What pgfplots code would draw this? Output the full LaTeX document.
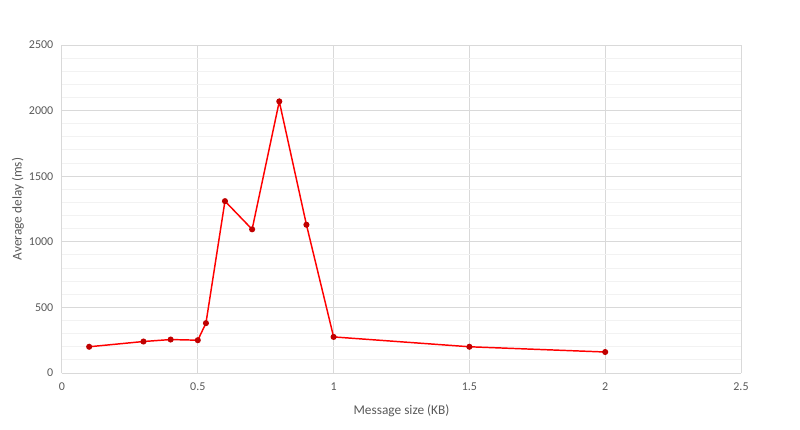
\documentclass[border=0pt]{standalone}
\usepackage{pgfplots}
\pgfplotsset{compat=1.18}
\usepackage{fontspec}
\setmainfont{Carlito}
\definecolor{tickgray}{HTML}{595959}
\definecolor{majgrid}{HTML}{D9D9D9}
\definecolor{mingrid}{HTML}{F2F2F2}
\definecolor{linered}{HTML}{FF0000}
\definecolor{markred}{HTML}{C00000}
\begin{document}
\begin{tikzpicture}
\path[use as bounding box] (0,0) rectangle (600pt,321.75pt);
\begin{axis}[
  at={(46.5pt,42pt)}, anchor=south west,
  scale only axis,
  width=509.25pt, height=246pt,
  xmin=0, xmax=2.5, ymin=0, ymax=2500,
  xtick={0,0.5,1,1.5,2,2.5},
  xticklabels={0,0.5,1,1.5,2,2.5},
  ytick={0,500,1000,1500,2000,2500},
  yticklabels={0,500,1000,1500,2000,2500},
  minor ytick={100,200,300,400,600,700,800,900,1100,1200,1300,1400,1600,1700,1800,1900,2100,2200,2300,2400},
  ymajorgrids, xmajorgrids, yminorgrids,
  major grid style={majgrid, line width=0.75pt},
  minor grid style={mingrid, line width=0.75pt},
  major tick length=0pt, minor tick length=0pt,
  axis line style={majgrid, line width=0.75pt},
  axis x line*=bottom, axis y line*=left,
  tick label style={font=\fontsize{9pt}{10pt}\selectfont, text=tickgray},
  xticklabel style={yshift=-4pt},
  yticklabel style={xshift=-3pt},
  label style={font=\fontsize{10pt}{12pt}\selectfont, text=tickgray},
  xlabel={Message size (KB)},
  ylabel={Average delay (ms)},
  xlabel style={at={(0.5,0)}, anchor=north, yshift=-20pt},
  ylabel style={at={(0,0.5)}, anchor=south, yshift=25pt},
  clip=false,
]
\addplot[linered, line width=1.1pt, mark=*, mark size=1.7pt, mark options={fill=markred, draw=markred}]
coordinates {
(0.1,200) (0.3,240) (0.4,255) (0.5,250) (0.53,380) (0.6,1310) (0.7,1095) (0.8,2070) (0.9,1130) (1.0,275) (1.5,200) (2.0,160)
};
\end{axis}
\end{tikzpicture}
\end{document}
